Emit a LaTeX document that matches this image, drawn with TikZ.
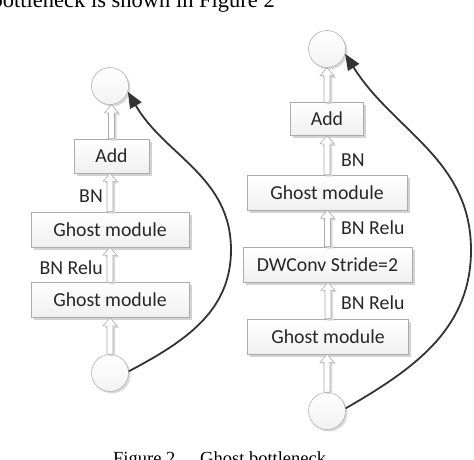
\documentclass[tikz,border=0pt]{standalone}
\usepackage{fontspec}
\setmainfont{Carlito}
\newfontfamily\seriffont{Liberation Serif}
\usetikzlibrary{shadows,calc,arrows.meta}
\newcommand{\blockarrow}[2]{%
  \fill[gray!30] let \p1=(#1), \p2=(#2) in
    (\x1-3pt+2pt,\y1-2pt) -- (\x1-3pt+2pt,\y2-8pt-2pt) -- (\x1-7pt+2pt,\y2-8pt-2pt) --
    (\x1+2pt,\y2-2pt) -- (\x1+7pt+2pt,\y2-8pt-2pt) -- (\x1+3pt+2pt,\y2-8pt-2pt) --
    (\x1+3pt+2pt,\y1-2pt) -- cycle;
  \draw[barrow] let \p1=(#1), \p2=(#2) in
    (\x1-3pt,\y1) -- (\x1-3pt,\y2-8pt) -- (\x1-7pt,\y2-8pt) --
    (\x1,\y2) -- (\x1+7pt,\y2-8pt) -- (\x1+3pt,\y2-8pt) --
    (\x1+3pt,\y1) -- cycle;}
\begin{document}
\begin{tikzpicture}[x=1pt,y=1pt,
  font=\fontsize{19.8}{22}\selectfont,
  box/.style={draw=gray!65, line width=0.6pt, top color=white, bottom color=gray!12,
    minimum height=35pt, inner sep=0pt, text=black!85,
    drop shadow={shadow xshift=2.5pt, shadow yshift=-2.5pt, fill=gray!35, opacity=1}},
  circ/.style={circle, draw=gray!60, line width=0.6pt, top color=white, bottom color=gray!10,
    minimum size=37pt, inner sep=0pt,
    drop shadow={shadow xshift=2pt, shadow yshift=-2pt, fill=gray!30, opacity=1}},
  lbl/.style={text=black!85, inner sep=0pt},
  skip/.style={draw=black!80, line width=1.8pt, -{Triangle[length=16pt,width=13pt]}},
  barrow/.style={draw=gray!65, fill=white, line width=0.6pt, line join=miter}
]
\useasboundingbox (0,0) rectangle (474,-460);

% surrounding text (cut by the page)
\node[anchor=base east, inner sep=0pt, font=\seriffont\fontsize{22.5}{24}\selectfont] (toptext) at (275,-8) {bottleneck is shown in Figure 2};
\node[anchor=base west, inner sep=0pt, font=\seriffont\fontsize{18.5}{20}\selectfont] (cap1) at (113,-464) {Figure 2};
\node[anchor=base west, inner sep=0pt, font=\seriffont\fontsize{18.5}{20}\selectfont] (cap2) at (200,-464) {Ghost bottleneck};

% left column
\node[circ] (t1) at (110,-86) {};
\node[box, minimum width=75pt, minimum height=34pt] (add1) at (111.5,-156) {Add};
\node[box, minimum width=158pt] (g1) at (110,-229.5) {Ghost module};
\node[box, minimum width=158pt] (g2) at (110,-300) {Ghost module};
\node[circ] (b1) at (110,-373) {};
\node[lbl, anchor=east] (l1) at (103,-196) {BN};
\node[lbl, anchor=east] (l2) at (103,-268) {BN Relu};

\blockarrow{b1.north}{g2.south}
\blockarrow{g2.north}{g1.south}
\blockarrow{g1.north}{add1.south}
\blockarrow{add1.north}{t1.south}

\coordinate (lmid) at (231,-250);
\draw[skip] (b1.5) to[out=28,in=-90] (lmid) to[out=90,in=-60] (t1.-18);

% right column
\node[circ] (t2) at (327,-49) {};
\node[box, minimum width=73pt, minimum height=33pt] (add2) at (327,-119) {Add};
\node[box, minimum width=160pt] (g3) at (327,-192.5) {Ghost module};
\node[box, minimum width=169pt] (dw) at (327.5,-264.5) {DWConv Stride=2};
\node[box, minimum width=161pt] (g4) at (328,-336.5) {Ghost module};
\node[circ] (b2) at (327,-411) {};
\node[lbl, anchor=west] (l3) at (341,-160) {BN};
\node[lbl, anchor=west] (l4) at (341,-228) {BN Relu};
\node[lbl, anchor=west] (l5) at (341,-303) {BN Relu};

\blockarrow{b2.north}{g4.south}
\blockarrow{g4.north}{dw.south}
\blockarrow{dw.north}{g3.south}
\blockarrow{g3.north}{add2.south}
\blockarrow{add2.north}{t2.south}

\coordinate (rmid) at (471,-250);
\draw[skip] (b2.8) to[out=30,in=-90] (rmid) to[out=90,in=-58] (t2.-15);
\end{tikzpicture}
\end{document}
